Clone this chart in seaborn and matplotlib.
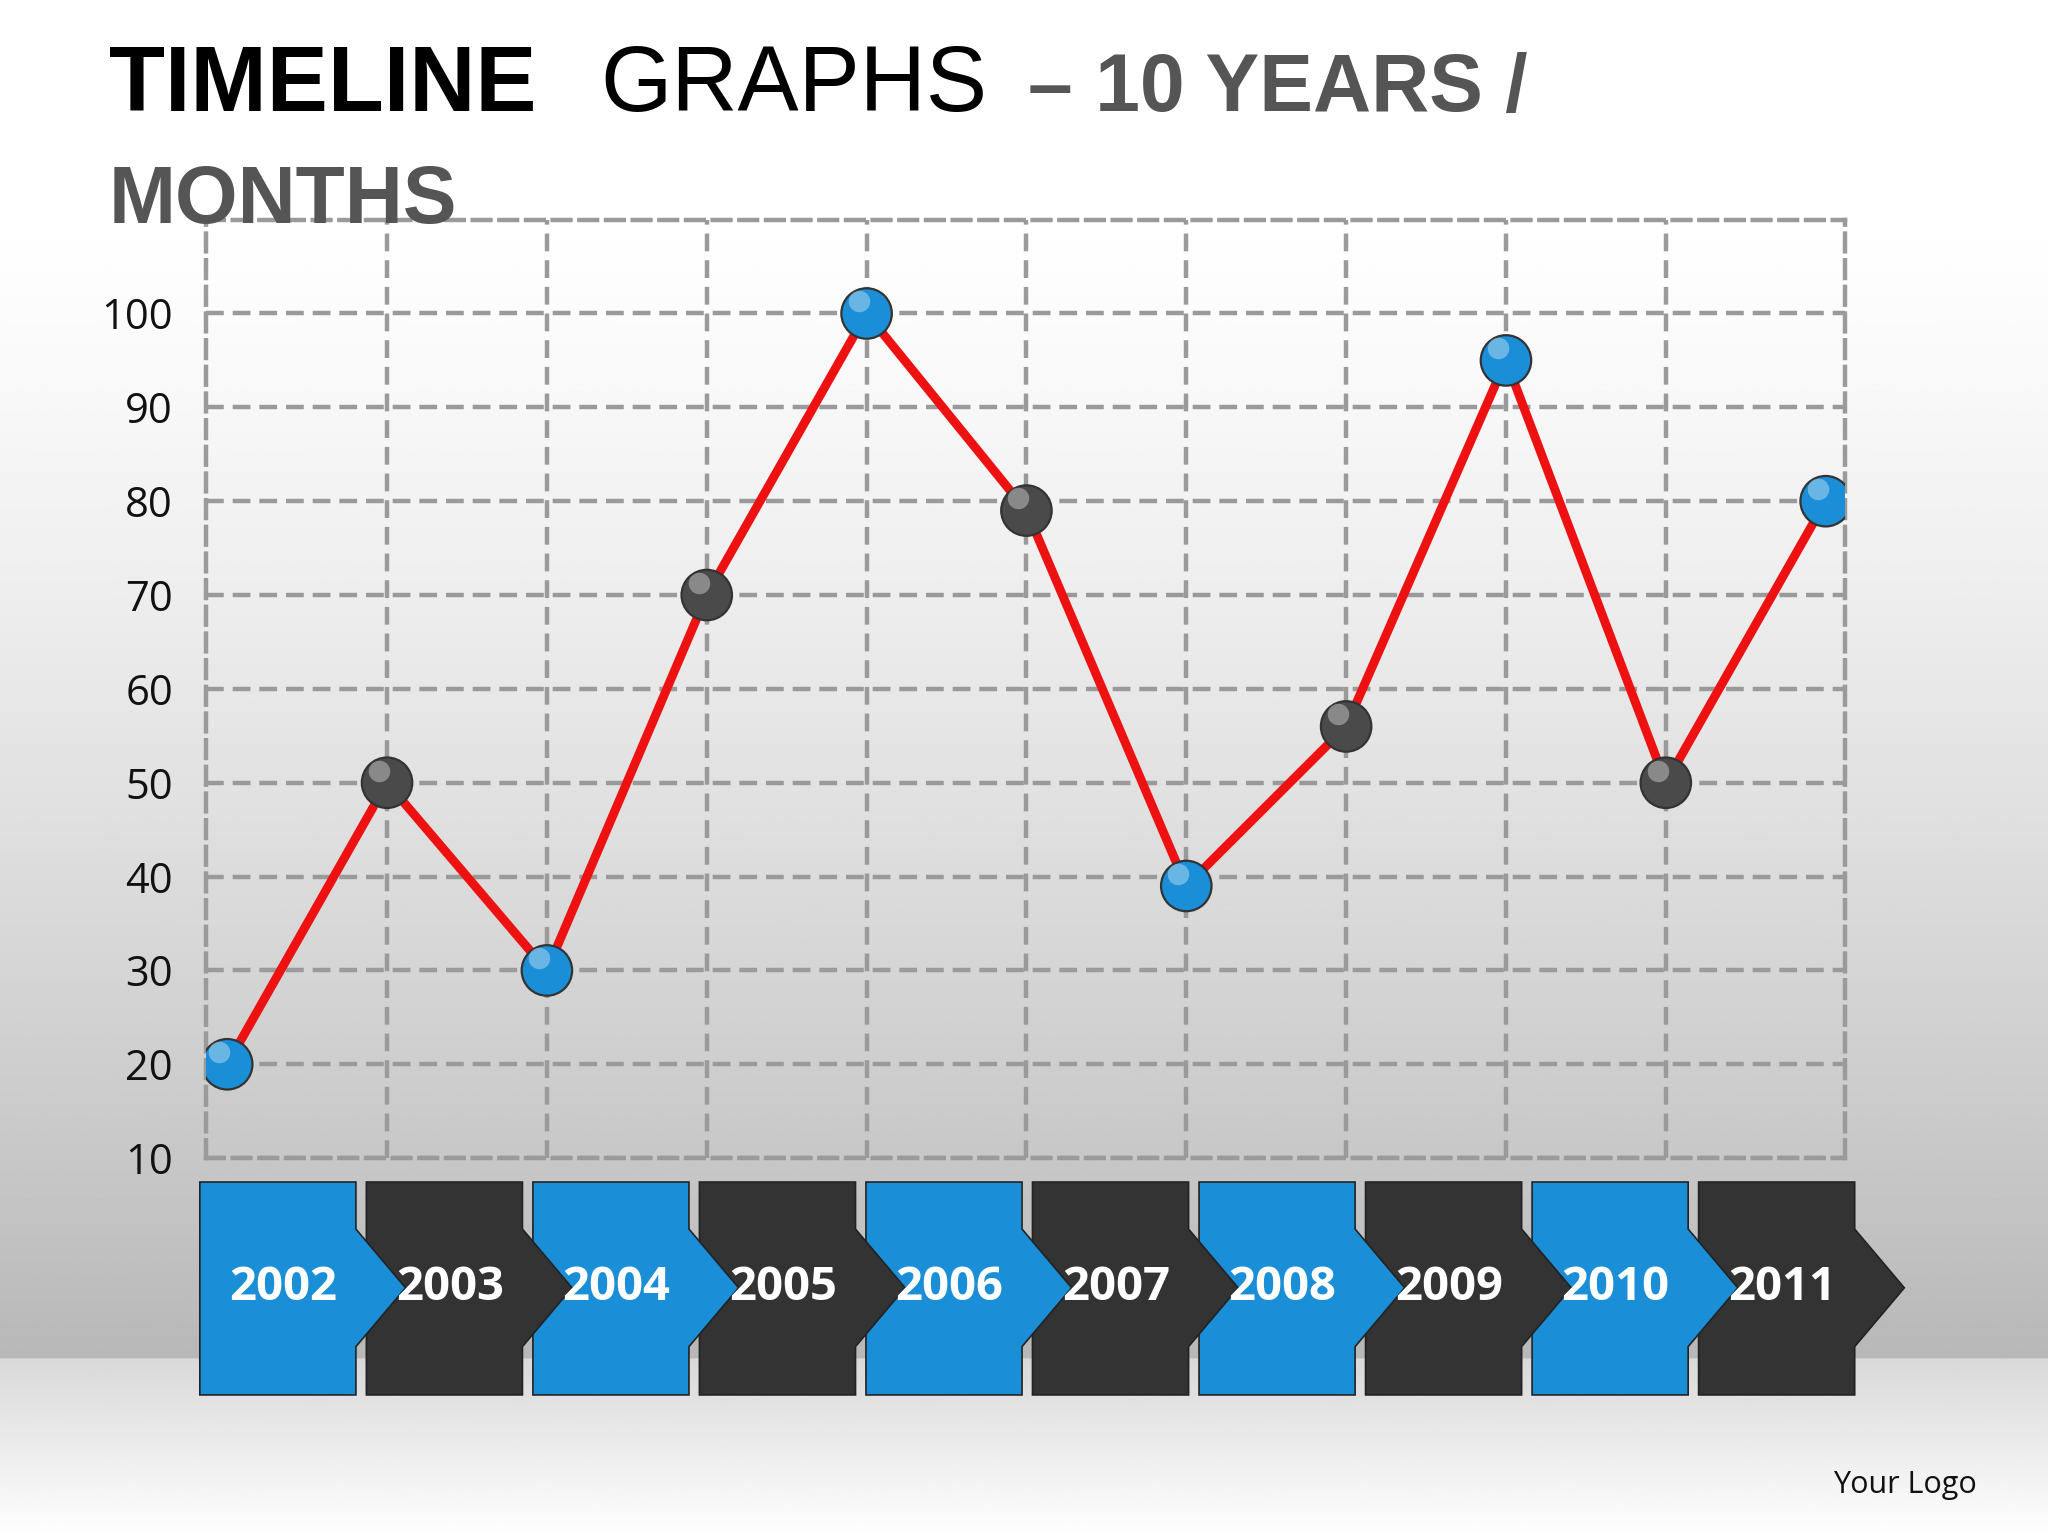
import numpy as np
import matplotlib
matplotlib.use("Agg")
import matplotlib.pyplot as plt
import seaborn as sns
import pandas as pd
from matplotlib.patches import Polygon

years = ["2002", "2003", "2004", "2005", "2006", "2007", "2008", "2009", "2010", "2011"]
point_index = list(range(11))
values = [20, 50, 30, 70, 100, 79, 39, 56, 95, 50, 80]
yticks = [10, 20, 30, 40, 50, 60, 70, 80, 90, 100]

sns.set_theme(style="white")
plt.rcParams['font.family'] = ['Open Sans', 'DejaVu Sans']

fig = plt.figure(figsize=(10.24, 7.68), dpi=200)

# background gradient
bg = fig.add_axes([0, 0, 1, 1], zorder=-10)
H = 1176
col = np.ones((H, 1))
for i in range(H):
    y = i
    if y < 1040:
        t = max(0, (y - 150) / 890)
        col[i] = 1 - 0.28 * t ** 1.3
    else:
        t = (y - 1040) / 136
        col[i] = 0.85 + 0.15 * t
bg.imshow(np.repeat(col, 10, axis=1), cmap="gray", vmin=0, vmax=1, aspect="auto", extent=[0, 1, 0, 1])
bg.axis("off")

ax = fig.add_axes([0.1008, 0.246, 0.800, 0.611])
ax.patch.set_alpha(0)
df = pd.DataFrame({"x": point_index, "v": values})
sns.lineplot(data=df, x="x", y="v", color="#EE1111", lw=3.2, ax=ax, zorder=3)
colors = ["#1A8FD8" if i % 2 == 0 else "#4A4A4A" for i in point_index]
ax.scatter(df["x"], df["v"], s=330, c=colors, edgecolors="#333333", linewidths=0.8, zorder=4)
ax.scatter(df["x"] - 0.05, df["v"] + 1.3, s=60, c="white", alpha=0.35, zorder=5, linewidths=0)
ax.set_xlim(-0.13, 10.12)
ax.set_ylim(10, 110)
ax.set_yticks(yticks)
ax.set_yticklabels([str(t) for t in yticks], fontsize=15, color="#111111")
ax.set_xticks(point_index[1:-1])
ax.set_xticklabels([])
ax.set_xlabel(""); ax.set_ylabel("")
ax.tick_params(length=0, pad=12)
ax.grid(True, color="#9a9a9a", ls=(0, (4, 2)), lw=1.6)
for s in ax.spines.values():
    s.set_visible(True)
    s.set_color("#9a9a9a")
    s.set_linestyle((0, (4, 2)))
    s.set_linewidth(1.6)

# year arrow boxes
W, Hh = 1568, 1176
def fx(x): return x / W
def fy(y): return 1 - y / Hh
x0, w = 153, 127.5
top, bot, mid = 905, 1068, 986
for i, yr in enumerate(years):
    l = x0 + i * w
    r = l + w - 8
    c = "#1A8FD8" if i % 2 == 0 else "#333333"
    pts = [(l, top), (r, top), (r, mid - 45), (r + 38, mid), (r, mid + 45), (r, bot), (l, bot)]
    fig.patches.append(Polygon([(fx(a), fy(b)) for a, b in pts], closed=True, transform=fig.transFigure,
                               facecolor=c, edgecolor="#222222", lw=0.6, zorder=2 + (10 - i)))
    fig.text(fx(l + 64), fy(mid), yr, color="white", fontsize=17, fontweight="bold",
             ha="center", va="center", zorder=30)

# title
fig.text(0.053, 0.928, "TIMELINE", fontsize=33, fontweight="bold", color="black",
         family=["Liberation Sans", "DejaVu Sans"], va="baseline")
fig.text(0.293, 0.928, "GRAPHS", fontsize=33, color="black",
         family=["Liberation Sans", "DejaVu Sans"], va="baseline")
fig.text(0.502, 0.928, "– 10 YEARS /", fontsize=29, fontweight="bold", color="#555555",
         family=["Liberation Sans Narrow", "Liberation Sans", "DejaVu Sans"], va="baseline")
fig.text(0.053, 0.855, "MONTHS", fontsize=29, fontweight="bold", color="#555555",
         family=["Liberation Sans Narrow", "Liberation Sans", "DejaVu Sans"], va="baseline")
fig.text(0.965, 0.028, "Your Logo", fontsize=11, color="#111111", ha="right")

fig.savefig("out.png", dpi=200)
